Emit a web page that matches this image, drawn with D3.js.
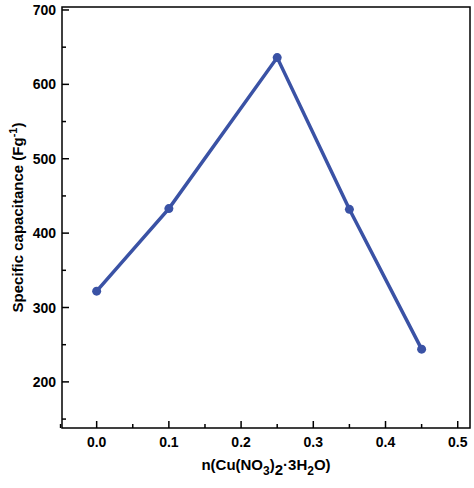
<!DOCTYPE html>
<html><head><meta charset="utf-8">
<script src="https://cdn.jsdelivr.net/npm/d3@7"></script>
<style>body{margin:0;background:#fff}text{font-family:"Liberation Sans",Arial,sans-serif;font-weight:bold}</style>
</head><body><div class="chart"></div>
<script>
var xValues = [0, 0.1, 0.25, 0.35, 0.45];
var capValues = [322, 433, 636, 432, 244];
var xTicks = [0, 0.1, 0.2, 0.3, 0.4, 0.5];
var yTicks = [200, 300, 400, 500, 600, 700];

var width = 474, height = 488;
var padL = 62, padR = 470, padT = 7, padB = 428;
var svg = d3.select('div.chart').append('svg').attr('width', width).attr('height', height);

var x = d3.scaleLinear().domain([-0.048, 0.517]).range([padL, padR]);
var y = d3.scaleLinear().domain([138, 704]).range([padB, padT]);

// minor + major ticks (inside)
d3.range(-0.05, 0.52, 0.05).forEach(function(v){
  var major = Math.abs(Math.round(v*10) - v*10) < 1e-6;
  svg.append('line').attr('x1', x(v)).attr('x2', x(v)).attr('y1', padB).attr('y2', padB - (major ? 7 : 4)).attr('stroke', '#000').attr('stroke-width', 1.5);
});
d3.range(150, 704, 50).forEach(function(v){
  var major = v % 100 === 0;
  svg.append('line').attr('x1', padL).attr('x2', padL + (major ? 7 : 4)).attr('y1', y(v)).attr('y2', y(v)).attr('stroke', '#000').attr('stroke-width', 1.5);
});

svg.selectAll('.xt').data(xTicks).enter().append('text')
   .attr('x', function(d){ return x(d); }).attr('y', padB + 19)
   .attr('text-anchor', 'middle').attr('font-size', 14).text(function(d){ return d.toFixed(1); });
svg.selectAll('.yt').data(yTicks).enter().append('text')
   .attr('x', padL - 6).attr('y', function(d){ return y(d) + 5; })
   .attr('text-anchor', 'end').attr('font-size', 14).text(function(d){ return d; });

svg.append('rect').attr('x', padL).attr('y', padT).attr('width', padR - padL).attr('height', padB - padT)
   .attr('fill', 'none').attr('stroke', '#000').attr('stroke-width', 1.5);

var pts = xValues.map(function(d, i){ return [d, capValues[i]]; });
svg.append('path').datum(pts)
   .attr('d', d3.line().x(function(d){ return x(d[0]); }).y(function(d){ return y(d[1]); }))
   .attr('fill', 'none').attr('stroke', '#3a52a5').attr('stroke-width', 3.5);
svg.selectAll('circle').data(pts).enter().append('circle')
   .attr('cx', function(d){ return x(d[0]); }).attr('cy', function(d){ return y(d[1]); })
   .attr('r', 4.5).attr('fill', '#3a52a5');

var xl = svg.append('text').attr('x', (padL + padR) / 2).attr('y', 470).attr('text-anchor', 'middle').attr('font-size', 15);
xl.append('tspan').text('n(Cu(NO');
xl.append('tspan').attr('dy', 5).attr('font-size', 12).text('3');
xl.append('tspan').attr('dy', -5).text(')');
xl.append('tspan').attr('dy', 5).text('2');
xl.append('tspan').attr('dy', -5).text('·3H');
xl.append('tspan').attr('dy', 5).attr('font-size', 12).text('2');
xl.append('tspan').attr('dy', -5).text('O)');

var yl = svg.append('text').attr('transform', 'translate(23,' + ((padT + padB) / 2) + ') rotate(-90)')
   .attr('text-anchor', 'middle').attr('font-size', 15);
yl.append('tspan').text('Specific capacitance (Fg');
yl.append('tspan').attr('dy', -6).attr('font-size', 11).text('-1');
yl.append('tspan').attr('dy', 6).text(')');
</script></body></html>
